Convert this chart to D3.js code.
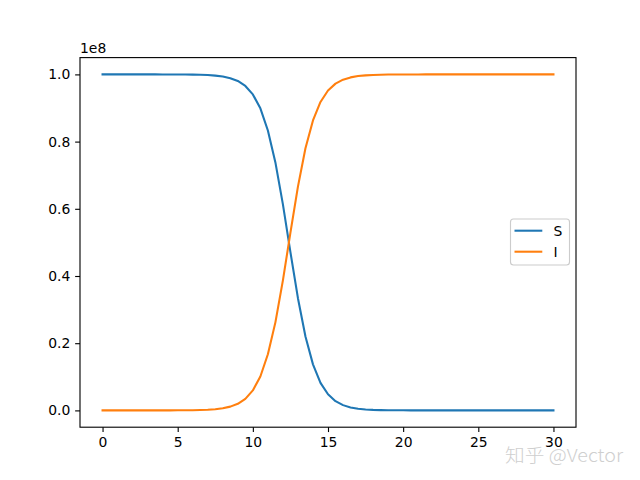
<!DOCTYPE html>
<html>
<head>
<meta charset="utf-8">
<script src="https://cdn.jsdelivr.net/npm/d3@7"></script>
<style>
  html, body { margin: 0; padding: 0; background: #fff; }
  svg { display: block; }
  text { font-family: "DejaVu Sans", sans-serif; }
</style>
</head>
<body>
<svg id="chart" width="640" height="480"></svg>
<script>
// ---- data (values in units of 1e8) ----
const t = [0,0.5,1,1.5,2,2.5,3,3.5,4,4.5,5,5.5,6,6.5,7,7.5,8,8.5,9,9.5,10,10.5,11,11.5,12,12.5,13,13.5,14,14.5,15,15.5,16,16.5,17,17.5,18,18.5,19,19.5,20,20.5,21,21.5,22,22.5,23,23.5,24,24.5,25,25.5,26,26.5,27,27.5,28,28.5,29,29.5,30];
const I = [0.0000,0.0000,0.0000,0.0000,0.0000,0.0000,0.0000,0.0000,0.0001,0.0001,0.0002,0.0004,0.0006,0.0011,0.0020,0.0036,0.0063,0.0112,0.0196,0.0344,0.0595,0.101,0.167,0.262,0.387,0.529,0.666,0.780,0.863,0.918,0.952,0.9725,0.9843,0.9911,0.9950,0.9972,0.9984,0.9991,0.9995,0.9997,0.9998,0.9999,0.9999,1.0,1.0,1.0,1.0,1.0,1.0,1.0,1.0,1.0,1.0,1.0,1.0,1.0,1.0,1.0,1.0,1.0,1.0];
const S = [1.0,1.0,1.0,1.0,1.0,1.0,1.0,1.0,0.9999,0.9999,0.9998,0.9996,0.9994,0.9989,0.9980,0.9964,0.9937,0.9888,0.9804,0.9656,0.9405,0.899,0.833,0.738,0.613,0.471,0.334,0.220,0.137,0.082,0.048,0.0275,0.0157,0.0089,0.0050,0.0028,0.0016,0.0009,0.0005,0.0003,0.0002,0.0001,0.0001,0.0,0.0,0.0,0.0,0.0,0.0,0.0,0.0,0.0,0.0,0.0,0.0,0.0,0.0,0.0,0.0,0.0,0.0];
const seriesNames = ["S", "I"];
const seriesColors = ["#1f77b4", "#ff7f0e"];
const xTicks = [0,5,10,15,20,25,30];
const yTicks = [0.0,0.2,0.4,0.6,0.8,1.0];
const offsetLabel = "1e8";
const watermark = "知乎 @Vector";

// ---- layout ----
const svg = d3.select("#chart");
const L = 80, R = 576, T = 57.6, B = 427.2;
const x = d3.scaleLinear().domain([-1.5, 31.5]).range([L, R]);
const y = d3.scaleLinear().domain([-0.05, 1.05]).range([B, T]);
const tickLen = 4.86, fs = 13.9;

// lines
const series = [S, I];
const line = d3.line().x((d, i) => x(t[i])).y(d => y(d));
series.forEach((vals, k) => {
  svg.append("path").datum(vals)
    .attr("d", line)
    .attr("fill", "none")
    .attr("stroke", seriesColors[k])
    .attr("stroke-width", 2.08)
    .attr("stroke-linejoin", "round")
    .attr("stroke-linecap", "square");
});

// axes
const xAxis = d3.axisBottom(x).tickValues(xTicks).tickFormat(d3.format("d"))
  .tickSize(tickLen).tickPadding(4.86);
const yAxis = d3.axisLeft(y).tickValues(yTicks).tickFormat(d3.format(".1f"))
  .tickSize(tickLen).tickPadding(4.86);

const gx = svg.append("g").attr("transform", `translate(0,${B})`).call(xAxis);
const gy = svg.append("g").attr("transform", `translate(${L},0)`).call(yAxis);
[gx, gy].forEach(g => {
  g.select(".domain").remove();
  g.selectAll(".tick line").attr("stroke", "#000").attr("stroke-width", 1.11);
  g.selectAll(".tick text").attr("fill", "#000").style("font-size", fs + "px")
    .style("font-family", "DejaVu Sans, sans-serif");
});

// frame
svg.append("rect").attr("x", L).attr("y", T).attr("width", R - L).attr("height", B - T)
  .attr("fill", "none").attr("stroke", "#000").attr("stroke-width", 1.11);

// offset text
svg.append("text").attr("x", L).attr("y", 52.5).text(offsetLabel)
  .style("font-size", fs + "px").attr("fill", "#000");

// legend
const lg = svg.append("g");
lg.append("rect").attr("x", 510.5).attr("y", 219).attr("width", 59).attr("height", 46)
  .attr("rx", 3).attr("fill", "#fff").attr("fill-opacity", 0.8)
  .attr("stroke", "#ccc").attr("stroke-width", 1.11);
seriesNames.forEach((n, k) => {
  const yy = 230.7 + k * 21;
  lg.append("line").attr("x1", 514.5).attr("x2", 542.3).attr("y1", yy).attr("y2", yy)
    .attr("stroke", seriesColors[k]).attr("stroke-width", 2.08);
  lg.append("text").attr("x", 553.5).attr("y", yy).attr("dy", "0.36em")
    .text(n).style("font-size", fs + "px").attr("fill", "#000");
});

// watermark
svg.append("text").attr("x", 505).attr("y", 462)
  .attr("textLength", 118).attr("lengthAdjust", "spacingAndGlyphs")
  .text(watermark).style("font-size", "18px").attr("fill", "#cfcfcf")
  .style("font-weight", 300)
  .style("font-family", "Noto Sans CJK SC, DejaVu Sans, sans-serif");
</script>
</body>
</html>
